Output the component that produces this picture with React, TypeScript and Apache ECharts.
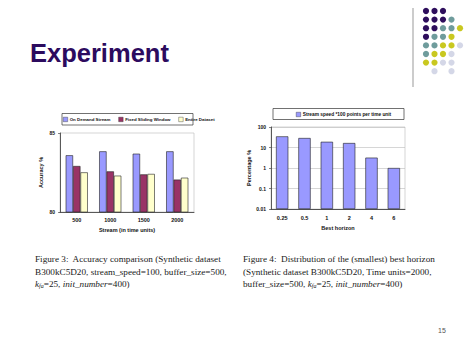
import React, { useEffect, useRef } from "react";
import * as echarts from "echarts";

const streamCategories = ["500", "1000", "1500", "2000"];
const onDemandStream = [83.59, 83.84, 83.69, 83.84];
const fixedSlidingWindow = [82.91, 82.57, 82.38, 82.05];
const entireDataset = [82.51, 82.3, 82.41, 82.17];
const accuracyTicks = [80, 85];

const horizonCategories = ["0.25", "0.5", "1", "2", "4", "6"];
const horizonPercentage = [35, 29, 19, 16.5, 3.2, 1.0];
const percentageTicks = [0.01, 0.1, 1, 10, 100];

const dotPattern = ["PPP..", "PPPT.", "PPTTY", "PTTY.", "TTYYL", "TYYL.", "YYLL.", ".L.L."];
const dotColors: Record<string, string> = { P: "#2e0e5c", T: "#6f9c9c", Y: "#c9c820", L: "#d4d7e7" };

const caption3 = [
  "Figure 3:  Accuracy comparison (Synthetic dataset",
  "B300kC5D20, stream_speed=100, buffer_size=500,",
  "{i|k}{sub|fa}=25, {i|init_number}=400)",
];
const caption4 = [
  "Figure 4:  Distribution of the (smallest) best horizon",
  "(Synthetic dataset B300kC5D20, Time units=2000,",
  "buffer_size=500, {i|k}{sub|fa}=25, {i|init_number}=400)",
];

export default function App() {
  const ref = useRef<HTMLDivElement>(null);
  useEffect(() => {
    const chart = echarts.init(ref.current!, null, { renderer: "svg" });
    const axisFont = { fontFamily: "Liberation Sans, Arial", fontWeight: "bold" as const, color: "#111" };
    const capStyle = {
      fontFamily: "Liberation Serif, Times New Roman, serif",
      fontSize: 9.2,
      fill: "#1a1a1a",
    };
    const rich = {
      i: { fontFamily: "Liberation Serif", fontStyle: "italic" as const, fontSize: 9.2, color: "#1a1a1a" },
      sub: { fontFamily: "Liberation Serif", fontStyle: "italic" as const, fontSize: 6, color: "#1a1a1a", padding: [4, 0, 0, 0] },
    };
    const dots: any[] = [];
    dotPattern.forEach((row, r) => {
      row.split("").forEach((c, k) => {
        if (c === ".") return;
        dots.push({
          type: "circle",
          shape: { cx: 426 + k * 8.5, cy: 11 + r * 8.6, r: 3.1 },
          style: { fill: dotColors[c] },
        });
      });
    });
    const captionEls: any[] = [];
    caption3.forEach((t, i) => {
      captionEls.push({ type: "text", x: 35, y: 259 + i * 12.5, style: { ...capStyle, text: t, verticalAlign: "middle", rich } });
    });
    caption4.forEach((t, i) => {
      captionEls.push({ type: "text", x: 243, y: 259 + i * 12.5, style: { ...capStyle, text: t, verticalAlign: "middle", rich } });
    });
    const barBorder = { borderColor: "#222", borderWidth: 0.6 };
    const decades = percentageTicks.length - 1;
    const legendCommon = {
      padding: 0,
      icon: "rect",
      itemWidth: 4.5,
      itemHeight: 4.5,
      itemStyle: { borderColor: "#333", borderWidth: 0.4 },
      textStyle: { ...axisFont, fontSize: 4.4, padding: [0, 0, 0, -3] },
      z: 10,
    };
    chart.setOption({
      animation: false,
      backgroundColor: "#fff",
      graphic: [
        {
          type: "text",
          x: 30,
          y: 53,
          style: {
            text: "Experiment",
            fontFamily: "Liberation Sans, Arial",
            fontWeight: "bold",
            fontSize: 25.5,
            fill: "#2c0b5e",
            verticalAlign: "middle",
          },
        },
        { type: "line", shape: { x1: 413, y1: 8, x2: 413, y2: 87 }, style: { stroke: "#999", lineWidth: 1 } },
        ...dots,
        { type: "rect", shape: { x: 62, y: 113.5, width: 131, height: 11.5 }, style: { fill: "#fff", stroke: "#333", lineWidth: 0.7 }, z: 0 },
        { type: "rect", shape: { x: 273, y: 108.5, width: 131, height: 11 }, style: { fill: "#fff", stroke: "#333", lineWidth: 0.7 }, z: 0 },
        ...captionEls,
        {
          type: "text",
          x: 442,
          y: 330,
          style: { text: "15", fontFamily: "Liberation Sans, Arial", fontSize: 7, fill: "#555", align: "center", verticalAlign: "middle" },
        },
      ],
      legend: [
        {
          ...legendCommon,
          data: ["On Demand Stream", "Fixed Sliding Window", "Entire Dataset"],
          left: 63,
          top: 117,
          itemGap: 8,
        },
        {
          ...legendCommon,
          data: ["Stream speed *100 points per time unit"],
          left: 296,
          top: 112,
          textStyle: { ...axisFont, fontSize: 4.8, padding: [0, 0, 0, -3] },
        },
      ],
      grid: [
        { left: 60, top: 133, width: 134, height: 79, show: true, borderColor: "#bbb", borderWidth: 0.6, backgroundColor: "#fff" },
        { left: 271, top: 127, width: 134, height: 82, show: true, borderColor: "#bbb", borderWidth: 0.6, backgroundColor: "#fff" },
      ],
      xAxis: [
        {
          type: "category",
          gridIndex: 0,
          data: streamCategories,
          name: "Stream (in time units)",
          nameLocation: "middle",
          nameGap: 15,
          nameTextStyle: { ...axisFont, fontSize: 5.5 },
          axisLine: { lineStyle: { color: "#333", width: 0.8 } },
          axisTick: { length: 2, lineStyle: { color: "#333", width: 0.6 } },
          axisLabel: { ...axisFont, fontSize: 5.5, margin: 5 },
        },
        {
          type: "category",
          gridIndex: 1,
          data: horizonCategories,
          name: "Best horizon",
          nameLocation: "middle",
          nameGap: 16,
          nameTextStyle: { ...axisFont, fontSize: 5.5 },
          axisLine: { lineStyle: { color: "#333", width: 0.8 } },
          axisTick: { length: 2, lineStyle: { color: "#333", width: 0.6 } },
          axisLabel: { ...axisFont, fontSize: 5.5, margin: 6 },
        },
      ],
      yAxis: [
        {
          type: "value",
          gridIndex: 0,
          min: accuracyTicks[0],
          max: accuracyTicks[1],
          interval: accuracyTicks[1] - accuracyTicks[0],
          name: "Accuracy %",
          nameLocation: "middle",
          nameGap: 16,
          nameTextStyle: { ...axisFont, fontSize: 5.5 },
          axisLine: { show: true, lineStyle: { color: "#333", width: 0.8 } },
          axisTick: { show: true, length: 2, lineStyle: { color: "#333", width: 0.6 } },
          axisLabel: { ...axisFont, fontSize: 5, margin: 5 },
          splitLine: { show: false },
        },
        {
          type: "value",
          gridIndex: 1,
          min: 0,
          max: decades,
          interval: 1,
          name: "Percentage %",
          nameLocation: "middle",
          nameGap: 19,
          nameTextStyle: { ...axisFont, fontSize: 5.5 },
          axisLine: { show: true, lineStyle: { color: "#333", width: 0.8 } },
          axisTick: { show: true, length: 2, lineStyle: { color: "#333", width: 0.6 } },
          axisLabel: {
            ...axisFont,
            fontSize: 5,
            margin: 5,
            formatter: (v: number) => String(percentageTicks[Math.round(v)]),
          },
          splitLine: { show: true, lineStyle: { color: "#bbb", width: 0.6 } },
        },
      ],
      series: [
        {
          name: "On Demand Stream",
          type: "bar",
          xAxisIndex: 0,
          yAxisIndex: 0,
          data: onDemandStream,
          barGap: "0%",
          barCategoryGap: "34%",
          itemStyle: { color: "#9999ff", ...barBorder },
        },
        {
          name: "Fixed Sliding Window",
          type: "bar",
          xAxisIndex: 0,
          yAxisIndex: 0,
          data: fixedSlidingWindow,
          itemStyle: { color: "#993366", ...barBorder },
        },
        {
          name: "Entire Dataset",
          type: "bar",
          xAxisIndex: 0,
          yAxisIndex: 0,
          data: entireDataset,
          itemStyle: { color: "#ffffcc", ...barBorder },
        },
        {
          name: "Stream speed *100 points per time unit",
          type: "bar",
          xAxisIndex: 1,
          yAxisIndex: 1,
          data: horizonPercentage.map((v) => Math.log10(v / percentageTicks[0])),
          barWidth: "55%",
          itemStyle: { color: "#9999ff", ...barBorder },
        },
      ],
    });
    return () => chart.dispose();
  }, []);
  return <div ref={ref} style={{ position: "fixed", left: 0, top: 0, width: 474, height: 355 }} />;
}
